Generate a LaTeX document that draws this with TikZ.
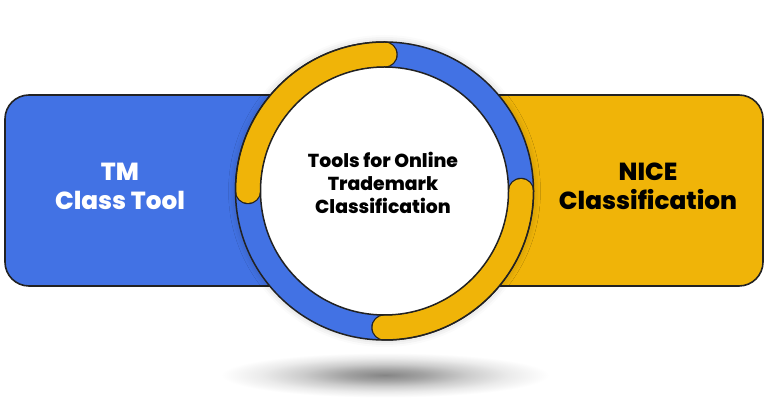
\documentclass[tikz,border=0pt]{standalone}
\usepackage{fontspec}
\setmainfont{Poppins}[BoldFont={Poppins ExtraBold}]
\usetikzlibrary{shadows.blur}
\definecolor{tmblue}{HTML}{4272E4}
\definecolor{tmyellow}{HTML}{F0B408}
\definecolor{edgecol}{HTML}{222222}
\pgfdeclareradialshading{groundshade}{\pgfpoint{0bp}{0bp}}{%
  color(0bp)=(black!48); color(5bp)=(black!36); color(10bp)=(black!20);
  color(15bp)=(black!8); color(20bp)=(white); color(50bp)=(white)}
\begin{document}
\begin{tikzpicture}[x=1pt,y=1pt,
  sidebox/.style={draw=edgecol, line width=1.6pt, rounded corners=24pt, inner sep=0pt},
  sidetext/.style={font=\fontsize{24.7}{29}\selectfont\bfseries, align=center},
  midtext/.style={font=\fontsize{18.8}{23}\selectfont\bfseries, align=center, text=black},
  ringedge/.style={draw=edgecol, line width=1.5pt},
  arcout/.style={draw=edgecol, line width=26.5pt, line cap=round},
  arcin/.style={draw=tmyellow, line width=24pt, line cap=round}]
\useasboundingbox (0,0) rectangle (768,401);
% ground shadow
\shade[shading=groundshade] (385,26) ellipse (205 and 28);
% side boxes
\node[sidebox, fill=tmblue, minimum width=330pt, minimum height=191pt] (lbox) at (170,210.5) {};
\node[sidebox, fill=tmyellow, minimum width=330pt, minimum height=191pt] (rbox) at (598,210.5) {};
\node[sidetext, text=white] (ltext) at (120,215) {TM\\Class Tool};
\node[sidetext, text=black] (rtext) at (648,215) {NICE\\Classification};
% ring
\coordinate (c) at (384.5,210);
\fill[tmblue, blur shadow={shadow xshift=0pt, shadow yshift=0pt, shadow blur radius=7pt, shadow opacity=22}] (c) circle (149);
\draw[arcout] ([shift={(90:136.5)}]c) arc (90:180:136.5);
\draw[arcin] ([shift={(90:136.5)}]c) arc (90:180:136.5);
\draw[arcout] ([shift={(270:136.5)}]c) arc (270:360:136.5);
\draw[arcin] ([shift={(270:136.5)}]c) arc (270:360:136.5);
\draw[ringedge] (c) circle (149);
\node[circle, fill=white, draw=edgecol, line width=1.5pt, minimum size=248pt, inner sep=0pt] (disc) at (c) {};
\node[midtext] (mtext) at (383,218) {Tools for Online\\Trademark\\Classification};
\end{tikzpicture}
\end{document}
